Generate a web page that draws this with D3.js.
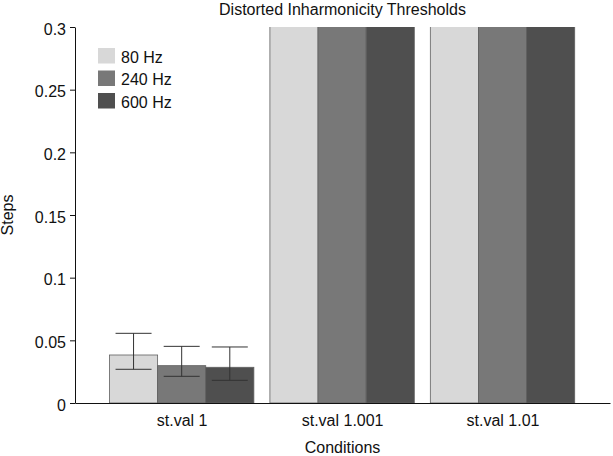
<!DOCTYPE html>
<html>
<head>
<meta charset="utf-8">
<script src="https://cdn.jsdelivr.net/npm/d3@7"></script>
<style>
body { margin: 0; background: #fff; }
text { font-family: Arial, "Liberation Sans", sans-serif; fill: #111; }
</style>
</head>
<body>
<svg id="chart" width="613" height="456"></svg>
<script>
const conditions = ["st.val 1", "st.val 1.001", "st.val 1.01"];
const seriesNames = ["80 Hz", "240 Hz", "600 Hz"];
const seriesColors = ["#d8d8d8", "#787878", "#4f4f4f"];
// mean thresholds per series; groups 2 and 3 run off the top of the axis
const means = [
    [0.0383, 0.0298, 0.0285],
    [1, 1, 1],
    [1, 1, 1]
];
const errLow = [
    [0.0269, 0.0213, 0.0181],
    [null, null, null],
    [null, null, null]
];
const errHigh = [
    [0.0556, 0.0452, 0.0447],
    [null, null, null],
    [null, null, null]
];
const yTicks = [0, 0.05, 0.1, 0.15, 0.2, 0.25, 0.3];

const svg = d3.select("#chart");
const plotArea = { left: 75, right: 610, top: 27, bottom: 403 };
const fontSize = 16;

const x = d3.scaleLinear().domain([0.335, 3.67]).range([plotArea.left, plotArea.right]);
const y = d3.scaleLinear().domain([0, 0.3]).range([plotArea.bottom, plotArea.top]);
const barW = x(1.3) - x(1.0); // ~48px
const groupOffset = d3.scaleLinear().domain([0, 2]).range([-barW, barW]);

svg.append("defs").append("clipPath").attr("id", "plotclip")
    .append("rect").attr("x", plotArea.left).attr("y", plotArea.top)
    .attr("width", plotArea.right - plotArea.left).attr("height", plotArea.bottom - plotArea.top);

const bars = [];
conditions.forEach((c, i) => {
    seriesNames.forEach((s, j) => {
        bars.push({ cond: i + 1, s: j, v: means[i][j], lo: errLow[i][j], hi: errHigh[i][j] });
    });
});

const plot = svg.append("g").attr("clip-path", "url(#plotclip)");
plot.selectAll(".bar").data(bars).join("rect").attr("class", "bar")
    .attr("x", d => x(d.cond) + groupOffset(d.s) - barW / 2)
    .attr("width", barW)
    .attr("y", d => y(d.v))
    .attr("height", d => y(0) - y(d.v))
    .attr("fill", d => seriesColors[d.s])
    .attr("stroke", "#606060")
    .attr("stroke-width", 0.8);

const errs = bars.filter(d => d.lo !== null);
const capW = 36;
const cx = d => x(d.cond) + groupOffset(d.s);
const eg = plot.selectAll(".err").data(errs).join("g").attr("class", "err")
    .attr("stroke", "#333").attr("stroke-width", 1);
eg.append("line").attr("x1", cx).attr("x2", cx)
    .attr("y1", d => y(d.lo)).attr("y2", d => y(d.hi));
eg.append("line").attr("x1", d => cx(d) - capW / 2).attr("x2", d => cx(d) + capW / 2)
    .attr("y1", d => y(d.hi)).attr("y2", d => y(d.hi));
eg.append("line").attr("x1", d => cx(d) - capW / 2).attr("x2", d => cx(d) + capW / 2)
    .attr("y1", d => y(d.lo)).attr("y2", d => y(d.lo));

// y axis
const gY = svg.append("g").attr("transform", `translate(${plotArea.left},0)`)
    .call(d3.axisLeft(y).tickValues(yTicks).tickFormat(d => d).tickSize(5).tickSizeOuter(0));
gY.select(".domain").attr("stroke", "#111");
gY.selectAll(".tick line").attr("stroke", "#111");
gY.selectAll(".tick text").attr("font-size", fontSize).attr("x", -9).attr("dy", "0.45em").attr("fill", "#111");

// x axis
const gX = svg.append("g").attr("transform", `translate(0,${plotArea.bottom})`)
    .call(d3.axisBottom(x).tickValues([1, 2, 3]).tickFormat((d, i) => conditions[i]).tickSize(0).tickSizeOuter(0));
gX.select(".domain").attr("stroke", "#111");
gX.selectAll(".tick text").attr("font-size", fontSize).attr("dy", "1.22em").attr("fill", "#111");

const midX = (plotArea.left + plotArea.right) / 2;
svg.append("text").attr("x", midX).attr("y", 15)
    .attr("text-anchor", "middle").attr("font-size", fontSize).text("Distorted Inharmonicity Thresholds");
svg.append("text").attr("x", midX).attr("y", 453)
    .attr("text-anchor", "middle").attr("font-size", fontSize).text("Conditions");
svg.append("text").attr("transform", `translate(13,${(plotArea.top + plotArea.bottom) / 2}) rotate(-90)`)
    .attr("text-anchor", "middle").attr("font-size", fontSize).text("Steps");

// legend
const legend = svg.append("g").attr("transform", "translate(98,48)");
const li = legend.selectAll("g").data(seriesNames).join("g")
    .attr("transform", (d, i) => `translate(0,${i * 22.5})`);
li.append("rect").attr("width", 17).attr("height", 15.5).attr("fill", (d, i) => seriesColors[i]);
li.append("text").attr("x", 23).attr("y", 14.5).attr("font-size", fontSize).text(d => d);
</script>
</body>
</html>
